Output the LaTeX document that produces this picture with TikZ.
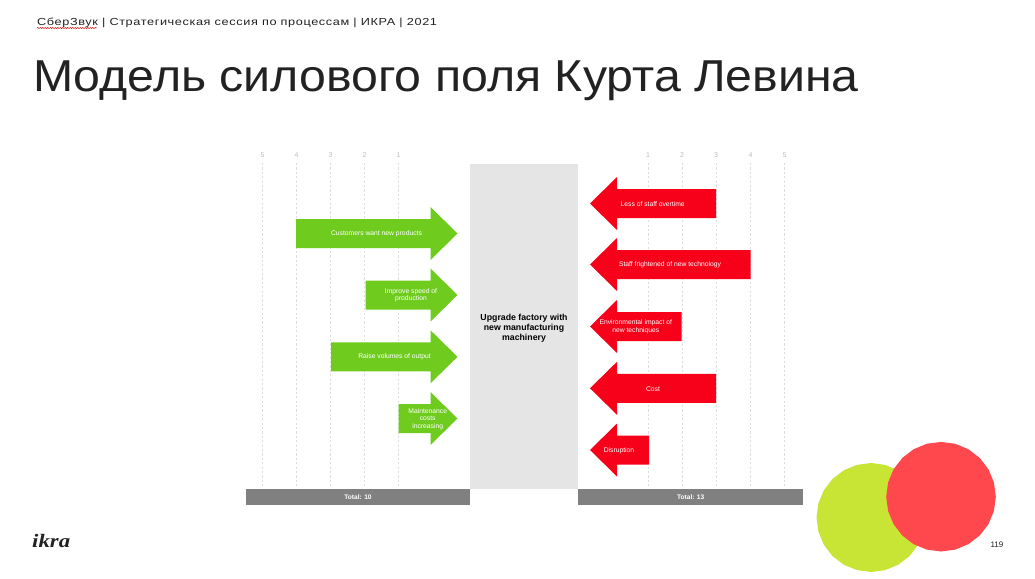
\documentclass[tikz,border=0pt]{standalone}
\usepackage{fontspec}
\setmainfont{Liberation Sans}
\newfontfamily\titlefont[FakeStretch=1.08]{Liberation Sans}
\newfontfamily\headfont[FakeStretch=1.245,LetterSpace=6]{Liberation Sans}
\newfontfamily\logofont[FakeStretch=1.2]{Liberation Serif}
\usetikzlibrary{decorations.pathmorphing}
\definecolor{arrowgreen}{HTML}{6FCC1F}
\definecolor{arrowred}{HTML}{F70019}
\definecolor{boxgray}{HTML}{E5E5E5}
\definecolor{bargray}{HTML}{808080}
\definecolor{gridgray}{HTML}{DDDDDD}
\definecolor{numgray}{HTML}{BDBDBD}
\definecolor{circgreen}{HTML}{C8E536}
\definecolor{circred}{HTML}{FF474E}
\definecolor{ink}{HTML}{222222}
\tikzset{
  gridline/.style={draw=gridgray,line width=0.7pt,dash pattern=on 2.2pt off 2.2pt},
  gridnum/.style={text=numgray,font=\fontsize{7}{8}\selectfont,inner sep=0pt},
  arrowlabel/.style={text=white,font=\fontsize{6.75}{7.6}\selectfont,align=center,inner sep=0pt},
  totalbar/.style={fill=bargray,draw=none},
  totallabel/.style={text=white,font=\fontsize{6.6}{7.5}\selectfont\bfseries,inner sep=0pt},
}
% #1 name, #2 tail x, #3 centre y, #4 label x, #5 label
\newcommand{\rightforce}[5]{%
  \fill[arrowgreen] (#2,#3-14.5) -- (430.5,#3-14.5) -- (430.5,#3-26.5) -- (457.5,#3) -- (430.5,#3+26.5) -- (430.5,#3+14.5) -- (#2,#3+14.5) -- cycle;
  \node[arrowlabel] (#1) at (#4,#3+0.4) {#5};}
\newcommand{\leftforce}[5]{%
  \fill[arrowred] (#2,#3-14.5) -- (617,#3-14.5) -- (617,#3-26.5) -- (590,#3) -- (617,#3+26.5) -- (617,#3+14.5) -- (#2,#3+14.5) -- cycle;
  \node[arrowlabel] (#1) at (#4,#3+0.4) {#5};}
\begin{document}
\begin{tikzpicture}[x=1pt,y=-1pt]
\useasboundingbox (0,0) rectangle (1035,578);
\fill[white] (0,0) rectangle (1035,578);
% header and title
\node[anchor=base west,inner sep=0pt,text=ink,font=\headfont\fontsize{10.2}{12}\selectfont] (head) at (37,26) {СберЗвук | Стратегическая сессия по процессам | ИКРА | 2021};
\coordinate (wavya) at (37,28);
\coordinate (wavyb) at (97,28);
\draw[red!85!black,line width=0.5pt,decorate,decoration={snake,amplitude=0.6pt,segment length=2.5pt}] (wavya) -- (wavyb);
\node[anchor=base west,inner sep=0pt,text=ink,font=\titlefont\fontsize{44.7}{50}\selectfont] (title) at (33,91) {Модель силового поля Курта Левина};
% grid
\foreach \x/\n in {262.5/5,296.5/4,330.5/3,364.5/2,398.5/1,648/1,682/2,716/3,750.5/4,784.5/5}{
  \draw[gridline] (\x,163) -- (\x,489);
  \node[gridnum] (n\x) at (\x,155.5) {\n};
}
% centre box
\node[fill=boxgray,minimum width=108pt,minimum height=325pt,inner sep=0pt,anchor=north west] (centre) at (470,164) {};
\node[font=\fontsize{8.75}{10.4}\selectfont\bfseries,align=center,inner sep=0pt,text=black] (topic) at (524,328.3) {Upgrade factory with\\new manufacturing\\machinery};
% forces
\rightforce{l1}{296}{233.5}{376.5}{Customers want new products}
\rightforce{l2}{365.5}{295}{411}{Improve speed of\\production}
\rightforce{l3}{331}{356.8}{394.5}{Raise volumes of output}
\rightforce{l4}{398.5}{418.5}{427.7}{Maintenance\\costs\\increasing}
\leftforce{r1}{716}{203.5}{652.7}{Less of staff overtime}
\leftforce{r2}{750.5}{264.5}{670}{Staff frightened of new technology}
\leftforce{r3}{681.5}{326.5}{635.7}{Environmental impact of\\new techniques}
\leftforce{r4}{716}{388.3}{653}{Cost}
\leftforce{r5}{649}{450}{619}{Disruption}
% totals
\fill[totalbar] (245.5,489) rectangle (470,505);
\node[totallabel] (t1) at (358,497) {Total: 10};
\fill[totalbar] (578,489) rectangle (802.5,505);
\node[totallabel] (t2) at (690.7,497) {Total: 13};
% circles
\fill[circgreen] plot[samples=25,domain=0:360] ({871+54.5*cos(\x)},{517.5+54.5*sin(\x)}) -- cycle;
\fill[circred] plot[samples=25,domain=0:360] ({941+54.8*cos(\x)},{496.7+54.8*sin(\x)}) -- cycle;
% page number and logo
\node[inner sep=0pt,text=ink,font=\fontsize{8}{9}\selectfont] (page) at (997,544.7) {119};
\node[anchor=base west,inner sep=0pt,text=ink,font=\logofont\fontsize{19}{20}\selectfont\bfseries\itshape] (logo) at (32,547) {ikra};
\end{tikzpicture}
\end{document}
